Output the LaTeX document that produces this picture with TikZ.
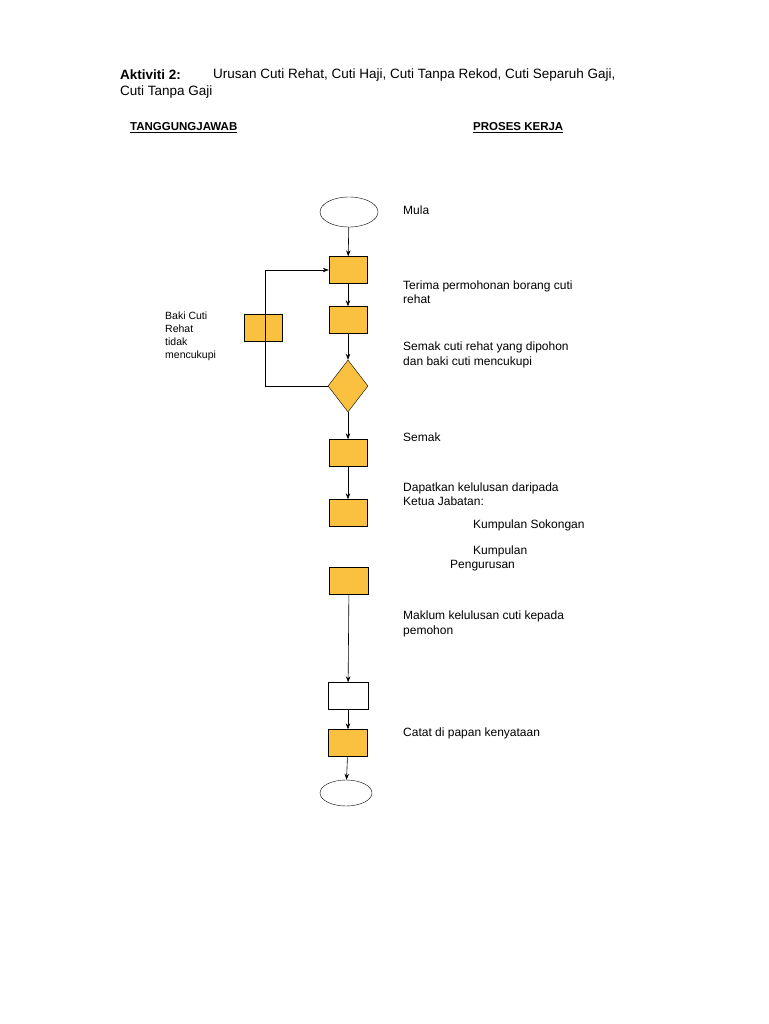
\documentclass[tikz,border=0pt]{standalone}
\usepackage{fontspec}
\setmainfont{Liberation Sans}
\usetikzlibrary{shapes.geometric,arrows.meta}
\definecolor{boxor}{RGB}{250,192,64}
\begin{document}
\begin{tikzpicture}[x=1pt,y=-1pt,
  box/.style={draw,fill=boxor,minimum width=38pt,minimum height=27pt,inner sep=0pt},
  wbox/.style={draw,fill=white,minimum width=40pt,minimum height=27pt,inner sep=0pt},
  term/.style={draw,ellipse,minimum width=58pt,minimum height=30pt,inner sep=0pt},
  dia/.style={draw,diamond,fill=boxor,minimum width=40pt,minimum height=52pt,inner sep=0pt},
  txt/.style={anchor=west,font=\fontsize{12}{14.5}\selectfont,align=left,inner sep=0pt},
  sm/.style={anchor=north west,font=\fontsize{10.5}{13}\selectfont,align=left,inner sep=0pt},
  arr/.style={-{Stealth[length=6pt,width=4.5pt]},line width=0.6pt},
  ln/.style={line width=0.6pt}]
\useasboundingbox (0,0) rectangle (768,1024);
\fill[white] (0,0) rectangle (768,1024);
% header
\node[txt,font=\fontsize{13.5}{16}\selectfont\bfseries] (h1) at (120,75) {Aktiviti 2:};
\node[txt,font=\fontsize{13.5}{16}\selectfont] (h2) at (213,75) {Urusan Cuti Rehat, Cuti Haji, Cuti Tanpa Rekod, Cuti Separuh Gaji,};
\node[txt,font=\fontsize{13.5}{16}\selectfont] (h3) at (120,92) {Cuti Tanpa Gaji};
\node[txt,font=\fontsize{11.5}{14}\selectfont\bfseries] (t1) at (130,128) {\underline{TANGGUNGJAWAB}};
\node[txt,font=\fontsize{11.5}{14}\selectfont\bfseries] (t2) at (473,128) {\underline{PROSES KERJA}};
% shapes
\node[term] (s) at (349,212) {};
\node[box] (b1) at (348,270) {};
\node[box] (b2) at (348,320) {};
\node[box] (bl) at (263,328) {};
\node[dia] (d) at (348,386) {};
\node[box] (b3) at (348,453) {};
\node[box] (b4) at (348,513) {};
\node[box,minimum width=39pt] (b5) at (349,581) {};
\node[wbox] (w) at (348,696) {};
\node[box,minimum width=39pt] (b6) at (348,743) {};
\node[term,minimum width=52pt,minimum height=26pt] (e) at (346,793) {};
\coordinate (c1) at (265,386);
\coordinate (c2) at (265,270);
% connectors
\draw[arr] (s) -- (b1);
\draw[arr] (b1) -- (b2);
\draw[arr] (b2) -- (d);
\draw[arr] (d) -- (b3);
\draw[arr] (b3) -- (b4);
\draw[arr] (b5) -- (w);
\draw[arr] (w) -- (b6);
\draw[arr] (b6) -- (e);
\draw[ln] (d.west) -- (c1) -- (c2);
\draw[arr] (c2) -- (b1.west);
% left label
\node[sm] (lb) at (165,312) {Baki Cuti\\Rehat\\tidak\\mencukupi};
% right texts
\node[txt] (r1) at (403,210) {Mula};
\node[txt] (r2) at (403,292) {Terima permohonan borang cuti\\rehat};
\node[txt] (r3) at (403,355) {Semak cuti rehat yang dipohon\\dan baki cuti mencukupi};
\node[txt] (r4) at (403,437) {Semak};
\node[txt] (r5) at (403,494) {Dapatkan kelulusan daripada\\Ketua Jabatan:};
\node[txt] (r6) at (473,525) {Kumpulan Sokongan};
\node[txt] (r7) at (473,551) {Kumpulan};
\node[txt] (r8) at (450,566) {Pengurusan};
\node[txt] (r9) at (403,624) {Maklum kelulusan cuti kepada\\pemohon};
\node[txt] (r10) at (403,733) {Catat di papan kenyataan};
\end{tikzpicture}
\end{document}
